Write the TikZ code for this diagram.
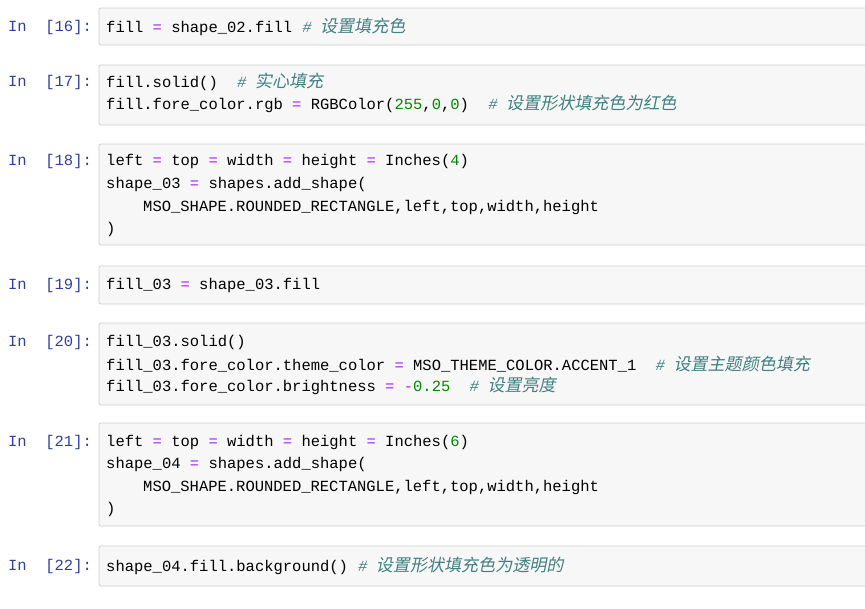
\documentclass[tikz,border=0pt]{standalone}
\usepackage{fontspec}
\setmonofont{Liberation Mono}
\newfontfamily\cjk[FakeSlant=0.2,Scale=1.1]{Noto Sans CJK SC}
\newfontfamily\slmono[FakeSlant=0.2]{Liberation Mono}
\definecolor{cellbg}{HTML}{F7F7F7}
\definecolor{cellbd}{HTML}{CFCFCF}
\definecolor{promptc}{HTML}{303F9F}
\definecolor{opc}{HTML}{AA22FF}
\definecolor{numc}{HTML}{008800}
\definecolor{cmc}{HTML}{408080}
\newcommand{\op}[1]{\textcolor{opc}{#1}}
\newcommand{\nm}[1]{\textcolor{numc}{#1}}
\newcommand{\cm}[1]{\textcolor{cmc}{{\slmono\#} {\cjk #1}}}
\tikzset{
  cellbox/.style={draw=cellbd, fill=cellbg, rounded corners=2pt, line width=0.8pt},
  code/.style={anchor=west, inner sep=0pt, font=\ttfamily\fontsize{15.5}{15.5}\selectfont},
  prompt/.style={anchor=west, inner sep=0pt, text=promptc, font=\ttfamily\fontsize{15.5}{15.5}\selectfont}
}
\begin{document}
\begin{tikzpicture}[x=1pt,y=-1pt]
\useasboundingbox (0,0) rectangle (865,608);
\begin{scope}
\clip (0,0) rectangle (865,608);
\draw[cellbox] (99,8) rectangle (880,45);
\draw[cellbox] (99,65) rectangle (880,125);
\draw[cellbox] (99,144) rectangle (880,245);
\draw[cellbox] (99,266) rectangle (880,304);
\draw[cellbox] (99,323) rectangle (880,405);
\draw[cellbox] (99,423) rectangle (880,526);
\draw[cellbox] (99,546) rectangle (880,586);
\end{scope}
\node[prompt] (p16) at (8,27) {In\ \ [16]:};
\node[prompt] (p17) at (8,82) {In\ \ [17]:};
\node[prompt] (p18) at (8,161) {In\ \ [18]:};
\node[prompt] (p19) at (8,285) {In\ \ [19]:};
\node[prompt] (p20) at (8,342) {In\ \ [20]:};
\node[prompt] (p21) at (8,442) {In\ \ [21]:};
\node[prompt] (p22) at (8,566) {In\ \ [22]:};
\node[code] (a1) at (106,27) {fill \op{=} shape\_02.fill \cm{设置填充色}};
\node[code] (b1) at (106,82) {fill.solid()\ \ \cm{实心填充}};
\node[code] (b2) at (106,104) {fill.fore\_color.rgb \op{=} RGBColor(\nm{255},\nm{0},\nm{0})\ \ \cm{设置形状填充色为红色}};
\node[code] (c1) at (106,161) {left \op{=} top \op{=} width \op{=} height \op{=} Inches(\nm{4})};
\node[code] (c2) at (106,184) {shape\_03 \op{=} shapes.add\_shape(};
\node[code] (c3) at (143,207) {MSO\_SHAPE.ROUNDED\_RECTANGLE,left,top,width,height};
\node[code] (c4) at (106,229) {)};
\node[code] (d1) at (106,285) {fill\_03 \op{=} shape\_03.fill};
\node[code] (e1) at (106,342) {fill\_03.solid()};
\node[code] (e2) at (106,364) {fill\_03.fore\_color.theme\_color \op{=} MSO\_THEME\_COLOR.ACCENT\_1\ \ \cm{设置主题颜色填充}};
\node[code] (e3) at (106,386) {fill\_03.fore\_color.brightness \op{=} \op{-}\nm{0.25}\ \ \cm{设置亮度}};
\node[code] (f1) at (106,442) {left \op{=} top \op{=} width \op{=} height \op{=} Inches(\nm{6})};
\node[code] (f2) at (106,464) {shape\_04 \op{=} shapes.add\_shape(};
\node[code] (f3) at (143,487) {MSO\_SHAPE.ROUNDED\_RECTANGLE,left,top,width,height};
\node[code] (f4) at (106,509) {)};
\node[code] (g1) at (106,566) {shape\_04.fill.background() \cm{设置形状填充色为透明的}};
\end{tikzpicture}
\end{document}
